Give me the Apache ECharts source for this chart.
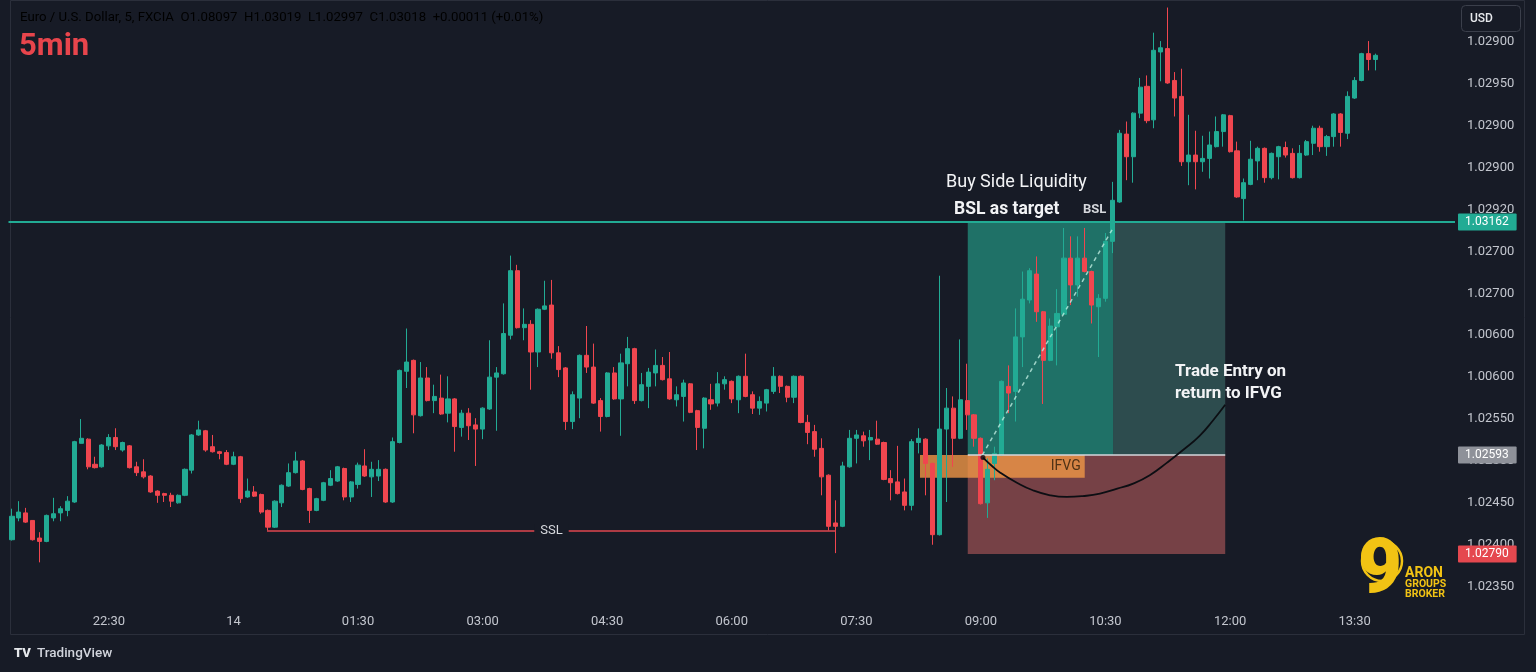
<!DOCTYPE html>
<html>
<head>
<meta charset="UTF-8">
<title>EUR/USD 5min</title>
<script src="https://cdn.jsdelivr.net/npm/echarts@6/dist/echarts.min.js"></script>
<style>
  html, body { margin: 0; padding: 0; background: #171b26; }
  #main { width: 1536px; height: 672px; }
</style>
</head>
<body>
<div id="main"></div>
<script>
// candles, price points (1e-5) on the chart's own scale
var open = [406,432,438,429,408,404,432,438,441,451,521,526,496,493,518,528,513,518,493,487,
  482,464,461,459,450,459,489,531,536,517,511,510,496,505,457,463,460,441,421,450,
  470,486,500,467,441,453,471,476,491,457,472,494,481,482,490,451,522,607,620,554,
  599,572,575,557,574,540,557,543,538,562,600,604,650,727,659,663,630,681,686,629,
  611,547,575,626,612,572,553,605,574,616,634,572,589,605,614,598,573,577,592,560,
  539,573,569,592,595,573,601,579,563,569,583,601,589,576,601,546,535,515,483,426,
  422,493,527,530,525,526,522,479,475,463,447,522,526,497,412,538,563,527,572,555,
  527,450,497,507,589,583,648,692,723,678,620,660,675,742,710,742,726,684,694,762,
  809,890,863,915,947,907,988,992,954,935,857,865,857,861,875,893,912,870,813,830,
  858,873,838,863,874,867,838,865,879,897,875,887,914,891,933,954,986,979];
var close = [434,439,427,406,404,435,437,443,452,523,527,493,492,519,528,517,522,492,486,481,
  463,459,459,452,459,490,531,537,513,511,509,496,505,455,464,458,439,421,452,471,
  486,500,466,441,455,474,479,493,457,475,495,482,490,490,451,523,608,618,555,599,
  572,577,556,574,541,557,542,538,563,600,605,652,727,659,663,630,681,685,629,609,
  547,579,626,612,569,553,605,574,617,634,572,591,606,614,597,574,579,593,558,540,
  575,568,592,597,574,601,577,563,571,585,601,589,576,601,546,534,514,481,422,422,
  494,527,531,524,528,520,478,474,461,447,523,527,497,412,538,563,527,573,555,527,
  449,490,509,595,581,648,693,727,678,620,661,676,742,710,742,726,686,694,762,811,
  891,863,915,946,906,990,993,951,933,857,865,857,861,877,893,913,869,815,832,860,
  873,838,867,875,865,838,867,881,897,875,887,914,892,935,954,986,979,984];
var low = [405,428,426,405,379,403,428,428,434,450,521,490,491,492,513,513,511,491,482,479,
  462,450,451,445,449,458,485,530,511,510,502,495,495,450,456,457,437,417,420,445,
  469,485,465,426,440,452,470,475,453,451,467,481,457,476,450,450,521,587,533,553,
  571,557,555,546,511,529,525,494,526,561,536,603,645,658,644,585,612,680,622,600,
  537,538,551,605,568,535,552,573,530,589,568,571,563,589,596,573,565,547,557,513,
  515,561,565,585,569,557,576,556,555,559,580,581,570,569,545,520,505,459,417,390,
  421,492,497,517,501,519,477,453,460,441,441,509,459,400,411,451,493,526,537,517,
  448,432,477,506,557,547,612,688,666,568,619,614,674,686,696,725,664,624,690,748,
  808,835,832,909,903,897,953,950,911,852,829,824,845,837,874,875,868,814,787,829,
  835,832,836,836,862,837,837,864,865,869,864,875,875,884,932,953,966,966];
var high = [443,452,444,429,415,436,456,446,458,524,550,527,505,520,532,539,523,519,499,502,
  483,465,462,462,460,491,532,548,537,531,512,513,511,506,479,470,461,442,453,472,
  497,511,501,468,456,475,489,494,492,476,498,514,499,501,491,528,609,658,621,618,
  612,591,603,601,575,561,563,551,564,644,612,688,745,734,682,668,682,715,716,637,
  612,583,627,661,640,575,606,612,628,648,635,605,611,633,624,630,589,597,593,561,
  576,592,606,601,596,602,628,583,577,586,612,602,590,602,602,555,543,527,484,453,
  499,537,537,535,537,548,523,489,518,479,526,539,527,498,721,587,577,645,616,556,
  528,503,517,596,614,682,726,730,744,679,670,705,778,768,768,778,727,699,772,833,
  895,905,916,957,960,1011,1001,1041,964,968,913,894,888,893,911,914,913,881,837,882,
  875,874,868,876,881,873,877,883,900,900,889,915,915,941,958,987,1001,986];

// y ticks (chart scale) and the labels printed next to them
var priceTicks  = [1000, 950, 900, 850, 800, 750, 700, 650, 600, 550, 500, 450, 400, 350];
var priceLabels = ['1.02900','1.02950','1.02900','1.02900','1.02920','1.02700','1.02700',
                   '1.00600','1.00600','1.02550','1.02500','1.02450','1.02400','1.02350'];

// time axis
var startMinute = 21 * 60 + 20;
var slotCount = 209;
var timeTicks = ['22:30','00:00','01:30','03:00','04:30','06:00','07:30','09:00','10:30','12:00','13:30'];

// drawn levels
var bslLevel = 785, entryLevel = 507, stopLevel = 389, sslLevel = 417, fvgLow = 480;
var levelTags = { bsl: '1.03162', entry: '1.02593', stop: '1.02790' };

// return-to-IFVG arc
var curveX = [140.3, 141.6, 142.8, 145.2, 147.5, 150.0, 152.4, 154.7, 157.2, 159.7, 162.0, 164.4, 166.9, 169.2, 171.6, 173.5, 175.3];
var curveY = [504, 494, 486, 474, 465, 459, 457, 458, 461, 467, 473, 483, 498, 513, 530, 548, 567];

function pad(n) { return n < 10 ? '0' + n : '' + n; }
var times = [];
for (var k = 0; k < slotCount; k++) {
    var m = (startMinute + 5 * k) % 1440;
    times.push(pad(Math.floor(m / 60)) + ':' + pad(m % 60));
}
var candles = open.map(function (o, i) { return [o, close[i], low[i], high[i]]; });
var curve = curveX.map(function (x, i) { return [x, curveY[i]]; });

var UP = '#22ab94', DOWN = '#f0464f', TXT = '#c3c6ce', FONT = 'Roboto, sans-serif';

var chart = echarts.init(document.getElementById('main'));

function tag(text, bg) {
    return {
        show: true, position: 'end', distance: 3, formatter: text,
        backgroundColor: bg, color: '#ffffff', fontFamily: FONT, fontSize: 12,
        lineHeight: 13, padding: [2, 8, 2, 7], borderRadius: 1
    };
}
var hidden = { color: 'rgba(0,0,0,0)', width: 1, type: 'solid' };

var option = {
    backgroundColor: '#171b26',
    animation: false,
    grid: { left: 8.5, right: 81, top: 0, bottom: 64.4 },
    xAxis: [{
        type: 'category', data: times, boundaryGap: true,
        axisLine: { show: false }, axisTick: { show: false }, splitLine: { show: false },
        axisLabel: {
            color: TXT, fontSize: 13, fontFamily: FONT, margin: 8,
            interval: function (idx, val) { return timeTicks.indexOf(val) >= 0; },
            formatter: function (v) { return v === '00:00' ? '14' : v; }
        }
    }, {
        type: 'value', min: -0.5, max: slotCount - 0.5, show: false
    }],
    yAxis: {
        type: 'value', position: 'right', min: 325, max: 1050, interval: 25,
        axisLine: { show: false }, axisTick: { show: false }, splitLine: { show: false },
        axisLabel: {
            color: TXT, fontSize: 13, fontFamily: FONT, margin: 12,
            formatter: function (v) {
                var k = priceTicks.indexOf(Math.round(v));
                return k >= 0 ? priceLabels[k] : '';
            }
        }
    },
    series: [{
        // position tool and IFVG boxes, under the candles
        type: 'line', xAxisIndex: 1, data: [], z: 1,
        markArea: {
            silent: true, z: 1, label: { show: false },
            data: [
                [{ xAxis: 138.1, yAxis: bslLevel, itemStyle: { color: 'rgba(38,176,150,0.58)' } }, { xAxis: 159.1, yAxis: entryLevel }],
                [{ xAxis: 159.1, yAxis: bslLevel, itemStyle: { color: 'rgba(80,150,140,0.4)' } }, { xAxis: 175.3, yAxis: entryLevel }],
                [{ xAxis: 138.1, yAxis: entryLevel, itemStyle: { color: 'rgba(200,98,98,0.54)' } }, { xAxis: 175.3, yAxis: stopLevel }],
                [{ name: 'IFVG', xAxis: 131.2, yAxis: entryLevel, itemStyle: { color: 'rgba(240,150,70,0.8)' },
                   label: { show: true, position: 'insideRight', distance: 4, color: '#4f3216', fontSize: 14, fontFamily: FONT } },
                 { xAxis: 155.0, yAxis: fvgLow }]
            ]
        }
    }, {
        type: 'candlestick', name: 'EURUSD', data: candles, barWidth: 4.6, z: 2,
        itemStyle: { color: UP, color0: DOWN, borderColor: UP, borderColor0: DOWN, borderWidth: 1 }
    }, {
        type: 'line', xAxisIndex: 1, data: [], z: 6,
        markLine: {
            silent: true, z: 6, symbol: ['none', 'none'],
            label: { show: false },
            data: [
                { yAxis: bslLevel, lineStyle: { color: UP, width: 2, type: 'solid' }, label: tag(levelTags.bsl, UP) },
                { yAxis: entryLevel, lineStyle: hidden, label: tag(levelTags.entry, '#8e9199') },
                { yAxis: stopLevel, lineStyle: hidden, label: tag(levelTags.stop, '#e5484f') },
                [{ coord: [138.1, entryLevel], lineStyle: { color: '#d5d7dc', width: 1.5, type: 'solid' } },
                 { coord: [175.3, entryLevel] }],
                [{ coord: [140.2, entryLevel], lineStyle: { color: 'rgba(190,236,224,0.8)', width: 1.5, type: [4, 4] } },
                 { coord: [159.1, 778] }],
                [{ coord: [36.85, sslLevel], lineStyle: { color: '#e0474f', width: 1.5, type: 'solid' },
                   label: { show: true, position: 'middle', distance: 0, verticalAlign: 'middle', formatter: 'SSL',
                            color: '#d7d9de', fontSize: 13, fontFamily: FONT, backgroundColor: '#171b26', padding: [0, 6] } },
                 { coord: [119.06, sslLevel] }]
            ]
        }
    }, {
        type: 'line', xAxisIndex: 1, data: curve, smooth: 0.5, showSymbol: false, z: 7,
        lineStyle: { color: '#0c0e13', width: 1.8 }
    }, {
        type: 'scatter', xAxisIndex: 1, data: [curve[0]], symbolSize: 5, z: 8,
        itemStyle: { color: '#0c0e13' }
    }],
    graphic: [
        { type: 'rect', silent: true, z: 1, shape: { x: 10.5, y: 0.5, width: 1514, height: 634 },
          style: { fill: 'none', stroke: '#2b2f3b', lineWidth: 1 } },
        { type: 'text', z: 100, style: {
            x: 20, y: 18, verticalAlign: 'middle', fontFamily: FONT, fontSize: 13.2,
            text: '{a|Euro / U.S. Dollar, 5, FXCIA}  {a|O}{v|1.08097}  {v|H1.03019}  {v|L1.02997}  {v|C1.03018}  {v|+0.00011 (+0.01%)}',
            rich: { a: { color: '#c9ccd4', fontSize: 13.2, fontFamily: FONT }, v: { color: '#2aa895', fontSize: 13.2, fontFamily: FONT } }
        } },
        { type: 'text', z: 100, style: { x: 19, y: 47, verticalAlign: 'middle', text: '5min',
            fill: '#e8454c', fontFamily: FONT, fontWeight: 'bold', fontSize: 31 } },
        { type: 'text', z: 100, style: { x: 946, y: 182, verticalAlign: 'middle', text: 'Buy Side Liquidity',
            fill: '#f2f3f5', fontFamily: FONT, fontSize: 18 } },
        { type: 'text', z: 100, style: { x: 954, y: 210, verticalAlign: 'middle', text: 'BSL as target',
            fill: '#f2f3f5', fontFamily: FONT, fontWeight: 'bold', fontSize: 17.5 } },
        { type: 'text', z: 100, style: { x: 1083, y: 210, verticalAlign: 'middle', text: 'BSL',
            fill: '#d5d7dc', fontFamily: FONT, fontWeight: 'bold', fontSize: 13 } },
        { type: 'text', z: 100, style: { x: 1175, y: 372, verticalAlign: 'middle', text: 'Trade Entry on',
            fill: '#f2f3f5', fontFamily: FONT, fontWeight: 'bold', fontSize: 17 } },
        { type: 'text', z: 100, style: { x: 1175, y: 394, verticalAlign: 'middle', text: 'return to IFVG',
            fill: '#f2f3f5', fontFamily: FONT, fontWeight: 'bold', fontSize: 17 } },
        // USD box
        { type: 'rect', z: 100, shape: { x: 1461.5, y: 5.5, width: 59, height: 26, r: 4 },
          style: { fill: '#171b26', stroke: '#3b3f4b', lineWidth: 1 } },
        { type: 'text', z: 101, style: { x: 1470, y: 18.5, verticalAlign: 'middle', text: 'USD',
            fill: '#e6e8ec', fontFamily: FONT, fontWeight: 500, fontSize: 12 } },
        // TradingView mark
        { type: 'text', z: 100, style: { x: 14, y: 654, verticalAlign: 'middle', text: 'TV',
            fill: '#e6e8ec', fontFamily: FONT, fontWeight: 900, fontSize: 13 } },
        { type: 'text', z: 100, style: { x: 37, y: 654, verticalAlign: 'middle', text: 'TradingView',
            fill: '#d1d4dc', fontFamily: FONT, fontWeight: 500, fontSize: 13.5 } },
        // broker logo
        { type: 'circle', z: 100, shape: { cx: 1382, cy: 561, r: 20 },
          style: { fill: 'none', stroke: '#f2c314', lineWidth: 2.5 } },
        { type: 'text', z: 100, style: { x: 1380, y: 573, align: 'center', verticalAlign: 'middle', text: '9',
            fill: '#f2c314', fontFamily: FONT, fontWeight: 900, fontSize: 76 } },
        { type: 'text', z: 100, style: { x: 1405, y: 573, verticalAlign: 'middle', text: 'ARON',
            fill: '#f2c314', fontFamily: FONT, fontWeight: 'bold', fontSize: 14 } },
        { type: 'text', z: 100, style: { x: 1405, y: 584.5, verticalAlign: 'middle', text: 'GROUPS',
            fill: '#f2c314', fontFamily: FONT, fontWeight: 'bold', fontSize: 10.5 } },
        { type: 'text', z: 100, style: { x: 1405, y: 594.5, verticalAlign: 'middle', text: 'BROKER',
            fill: '#f2c314', fontFamily: FONT, fontWeight: 'bold', fontSize: 10.5 } }
    ]
};

chart.setOption(option);
</script>
</body>
</html>
